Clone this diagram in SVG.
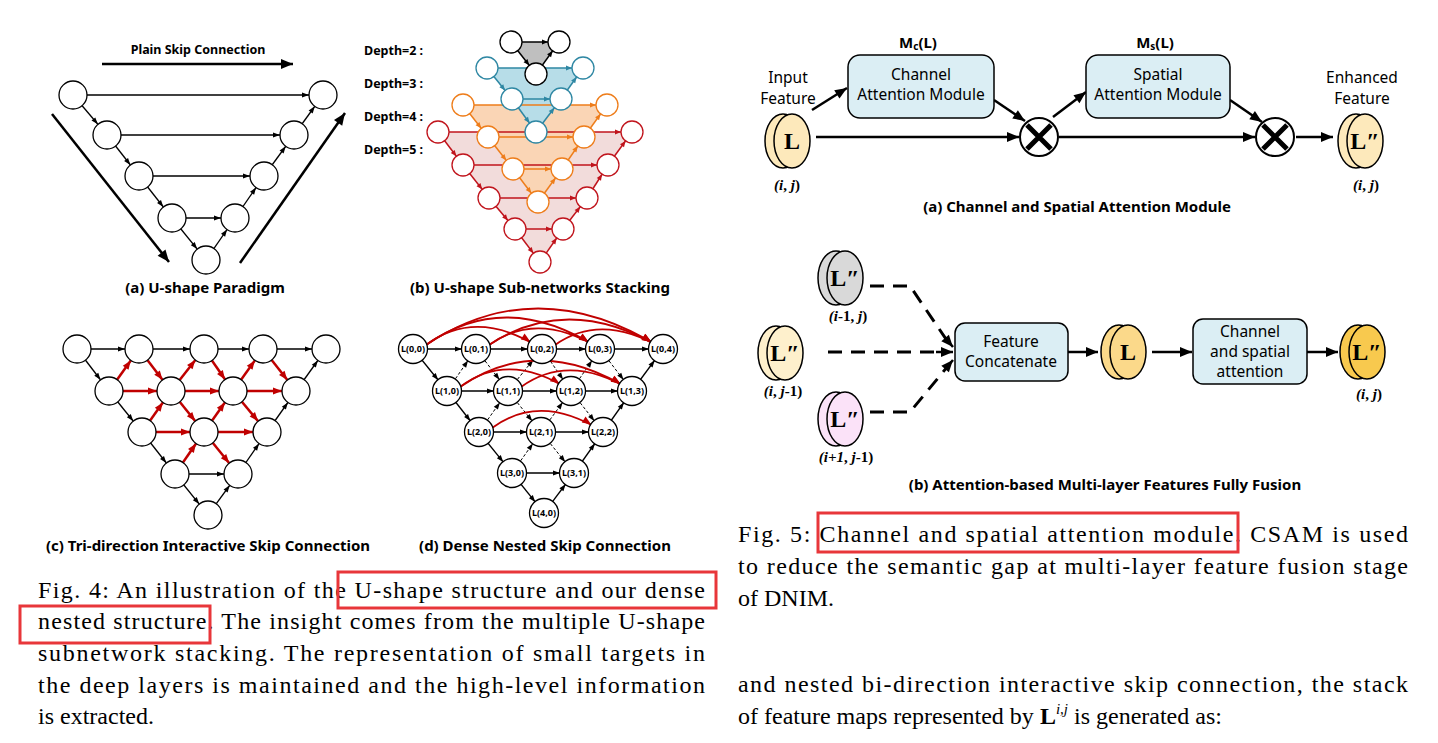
<svg xmlns="http://www.w3.org/2000/svg" width="1438" height="743" viewBox="0 0 1438 743">
<style>
.c{fill:#fff;stroke:#000;stroke-width:1.3}
.e{stroke:#000;stroke-width:1.3;fill:none;marker-end:url(#mk)}
.er{stroke:#c00000;stroke-width:2.5;fill:none;marker-end:url(#mr)}
.ed{stroke:#000;stroke-width:1;stroke-dasharray:3,2;fill:none;marker-end:url(#mk)}
.arc{stroke:#c00000;stroke-width:1.8;fill:none;marker-end:url(#mr)}
.cap{font-family:"Noto Sans","Open Sans",sans-serif;font-weight:bold;font-size:15px;text-anchor:middle}
.lab{font-family:"Noto Sans",sans-serif;font-weight:bold;font-size:9px;text-anchor:middle}
.bt{font-family:"Noto Sans","Open Sans",sans-serif;font-size:15.5px;text-anchor:middle}
.box{fill:#dbeef4;stroke:#000;stroke-width:1.5}
.ser{font-family:"Liberation Serif","Times New Roman",serif;font-size:24px}
.dl{font-family:"Liberation Serif","Times New Roman",serif;font-weight:bold;font-size:24px;text-anchor:middle}
.ij{font-family:"Liberation Serif","Times New Roman",serif;font-weight:bold;font-size:15px;text-anchor:middle}
.big{stroke:#000;stroke-width:2.5;fill:none;marker-end:url(#mbig)}
.dash{stroke:#000;stroke-width:3;stroke-dasharray:14,9;fill:none}
.hl{fill:none;stroke:#e8363a;stroke-width:3}
</style>
<defs>
<marker id="mk" markerUnits="userSpaceOnUse" markerWidth="7" markerHeight="5" refX="21" refY="2.5" orient="auto" style="overflow:visible"><path d="M0,0L7,2.5L0,5z"/></marker>
<marker id="mr" markerUnits="userSpaceOnUse" markerWidth="9" markerHeight="7" refX="23" refY="3.5" orient="auto" style="overflow:visible"><path d="M0,0L9,3.5L0,7z" fill="#c00000"/></marker>
<marker id="mbig" markerUnits="userSpaceOnUse" markerWidth="12" markerHeight="10" refX="12" refY="5" orient="auto" style="overflow:visible"><path d="M0,0L12,5L0,10z"/></marker>
<marker id="b0" markerUnits="userSpaceOnUse" markerWidth="6" markerHeight="5" refX="17" refY="2.5" orient="auto" style="overflow:visible"><path d="M0,0L6,2.5L0,5z"/></marker>
<marker id="b1" markerUnits="userSpaceOnUse" markerWidth="6" markerHeight="5" refX="17" refY="2.5" orient="auto" style="overflow:visible"><path d="M0,0L6,2.5L0,5z" fill="#2e87a3"/></marker>
<marker id="b2" markerUnits="userSpaceOnUse" markerWidth="6" markerHeight="5" refX="17" refY="2.5" orient="auto" style="overflow:visible"><path d="M0,0L6,2.5L0,5z" fill="#ee7d1a"/></marker>
<marker id="b3" markerUnits="userSpaceOnUse" markerWidth="6" markerHeight="5" refX="17" refY="2.5" orient="auto" style="overflow:visible"><path d="M0,0L6,2.5L0,5z" fill="#c0141c"/></marker>
</defs>
<rect width="1438" height="743" fill="#fff"/>

<!-- (a) U-shape paradigm -->
<g id="panel-a-connectors">
<text x="198" y="54" class="cap" style="font-size:12.5px">Plain Skip Connection</text>
<line x1="102" y1="64" x2="293" y2="64" class="big"/>
<line x1="52" y1="114" x2="169" y2="262" class="big"/>
<line x1="240" y1="263" x2="345" y2="113" class="big"/>
<line x1="73" y1="95" x2="107" y2="135" class="e"/>
<line x1="107" y1="135" x2="139" y2="176" class="e"/>
<line x1="139" y1="176" x2="172" y2="218" class="e"/>
<line x1="172" y1="218" x2="206" y2="260" class="e"/>
<line x1="206" y1="260" x2="235" y2="218" class="e"/>
<line x1="235" y1="218" x2="264" y2="176" class="e"/>
<line x1="264" y1="176" x2="294" y2="135" class="e"/>
<line x1="294" y1="135" x2="323" y2="95" class="e"/>
<line x1="73" y1="95" x2="323" y2="95" class="e"/>
<line x1="107" y1="135" x2="294" y2="135" class="e"/>
<line x1="139" y1="176" x2="264" y2="176" class="e"/>
<line x1="172" y1="218" x2="235" y2="218" class="e"/>
</g>
<g id="panel-a-nodes">
<circle cx="73" cy="95" r="14" class="c"/><circle cx="107" cy="135" r="14" class="c"/><circle cx="139" cy="176" r="14" class="c"/><circle cx="172" cy="218" r="14" class="c"/><circle cx="206" cy="260" r="14" class="c"/>
<circle cx="323" cy="95" r="14" class="c"/><circle cx="294" cy="135" r="14" class="c"/><circle cx="264" cy="176" r="14" class="c"/><circle cx="235" cy="218" r="14" class="c"/>
</g>
<text x="205" y="293" class="cap">(a) U-shape Paradigm</text>

<!-- (b) stacking -->
<g id="panel-b-fills">
<polygon points="438,132 632,132 608,165 587,198 563,229 540,262 515,229 489,198 463,165" fill="#f2dcdb"/>
<polygon points="463,105 607,105 584,137 562,169 538,202 513,169 488,137" fill="#fad5b5"/>
<polygon points="487,68 583,68 561,99 536,132 512,99" fill="#b7dde8"/>
<polygon points="511,42 559,42 536,74" fill="#bfbfbf"/>
</g>
<g id="panel-b-connectors" stroke-width="1.5">
<g stroke="#c0141c" marker-end="url(#b3)">
<line x1="438" y1="132" x2="632" y2="132"/><line x1="463" y1="165" x2="608" y2="165"/><line x1="489" y1="198" x2="587" y2="198"/><line x1="515" y1="229" x2="563" y2="229"/>
<line x1="438" y1="132" x2="463" y2="165"/><line x1="463" y1="165" x2="489" y2="198"/><line x1="489" y1="198" x2="515" y2="229"/><line x1="515" y1="229" x2="540" y2="262"/>
<line x1="540" y1="262" x2="563" y2="229"/><line x1="563" y1="229" x2="587" y2="198"/><line x1="587" y1="198" x2="608" y2="165"/><line x1="608" y1="165" x2="632" y2="132"/>
</g>
<g stroke="#ee7d1a" marker-end="url(#b2)">
<line x1="463" y1="105" x2="607" y2="105"/><line x1="488" y1="137" x2="584" y2="137"/><line x1="513" y1="169" x2="562" y2="169"/>
<line x1="463" y1="105" x2="488" y2="137"/><line x1="488" y1="137" x2="513" y2="169"/><line x1="513" y1="169" x2="538" y2="202"/>
<line x1="538" y1="202" x2="562" y2="169"/><line x1="562" y1="169" x2="584" y2="137"/><line x1="584" y1="137" x2="607" y2="105"/>
</g>
<g stroke="#2e87a3" marker-end="url(#b1)">
<line x1="487" y1="68" x2="583" y2="68"/><line x1="512" y1="99" x2="561" y2="99"/>
<line x1="487" y1="68" x2="512" y2="99"/><line x1="512" y1="99" x2="536" y2="132"/>
<line x1="536" y1="132" x2="561" y2="99"/><line x1="561" y1="99" x2="583" y2="68"/>
</g>
<g stroke="#000" marker-end="url(#b0)">
<line x1="511" y1="42" x2="559" y2="42"/><line x1="511" y1="42" x2="536" y2="74"/><line x1="536" y1="74" x2="559" y2="42"/>
</g>
</g>
<g id="panel-b-nodes" fill="#fff" stroke-width="1.3">
<g stroke="#c0141c"><circle cx="438" cy="132" r="11"/><circle cx="632" cy="132" r="11"/><circle cx="463" cy="165" r="11"/><circle cx="608" cy="165" r="11"/><circle cx="489" cy="198" r="11"/><circle cx="587" cy="198" r="11"/><circle cx="515" cy="229" r="11"/><circle cx="563" cy="229" r="11"/><circle cx="540" cy="262" r="11"/></g>
<g stroke="#ee7d1a"><circle cx="463" cy="105" r="11"/><circle cx="607" cy="105" r="11"/><circle cx="488" cy="137" r="11"/><circle cx="584" cy="137" r="11"/><circle cx="513" cy="169" r="11"/><circle cx="562" cy="169" r="11"/><circle cx="538" cy="202" r="11"/></g>
<g stroke="#2e87a3"><circle cx="487" cy="68" r="11"/><circle cx="583" cy="68" r="11"/><circle cx="512" cy="99" r="11"/><circle cx="561" cy="99" r="11"/><circle cx="536" cy="132" r="11"/></g>
<g stroke="#000"><circle cx="511" cy="42" r="11"/><circle cx="559" cy="42" r="11"/><circle cx="536" cy="74" r="11"/></g>
</g>
<g class="cap" style="font-size:12.5px;text-anchor:start">
<text x="364" y="55">Depth=2 :</text><text x="364" y="88">Depth=3 :</text><text x="364" y="121">Depth=4 :</text><text x="364" y="154">Depth=5 :</text>
</g>
<text x="540" y="293" class="cap">(b) U-shape Sub-networks Stacking</text>

<!-- (c) -->
<g id="panel-c-connectors">
<line x1="77" y1="349" x2="139" y2="349" class="e"/><line x1="139" y1="349" x2="204" y2="349" class="e"/><line x1="204" y1="349" x2="263" y2="349" class="e"/><line x1="263" y1="349" x2="326" y2="349" class="e"/>
<line x1="175" y1="474" x2="238" y2="474" class="e"/>
<line x1="77" y1="349" x2="109" y2="391" class="e"/><line x1="109" y1="391" x2="142" y2="432" class="e"/><line x1="142" y1="432" x2="175" y2="474" class="e"/><line x1="175" y1="474" x2="208" y2="515" class="e"/>
<line x1="208" y1="515" x2="238" y2="474" class="e"/><line x1="238" y1="474" x2="267" y2="432" class="e"/><line x1="267" y1="432" x2="296" y2="391" class="e"/><line x1="296" y1="391" x2="326" y2="349" class="e"/>
<line x1="109" y1="391" x2="171" y2="391" class="er"/><line x1="171" y1="391" x2="233" y2="391" class="er"/><line x1="233" y1="391" x2="296" y2="391" class="er"/>
<line x1="142" y1="432" x2="204" y2="432" class="er"/><line x1="204" y1="432" x2="267" y2="432" class="er"/>
<line x1="109" y1="391" x2="139" y2="349" class="er"/><line x1="171" y1="391" x2="204" y2="349" class="er"/><line x1="233" y1="391" x2="263" y2="349" class="er"/>
<line x1="142" y1="432" x2="171" y2="391" class="er"/><line x1="204" y1="432" x2="233" y2="391" class="er"/><line x1="175" y1="474" x2="204" y2="432" class="er"/>
<line x1="139" y1="349" x2="171" y2="391" class="er"/><line x1="204" y1="349" x2="233" y2="391" class="er"/><line x1="263" y1="349" x2="296" y2="391" class="er"/>
<line x1="171" y1="391" x2="204" y2="432" class="er"/><line x1="233" y1="391" x2="267" y2="432" class="er"/><line x1="204" y1="432" x2="238" y2="474" class="er"/>
</g>
<g id="panel-c-nodes">
<circle cx="77" cy="349" r="14" class="c"/><circle cx="139" cy="349" r="14" class="c"/><circle cx="204" cy="349" r="14" class="c"/><circle cx="263" cy="349" r="14" class="c"/><circle cx="326" cy="349" r="14" class="c"/>
<circle cx="109" cy="391" r="14" class="c"/><circle cx="171" cy="391" r="14" class="c"/><circle cx="233" cy="391" r="14" class="c"/><circle cx="296" cy="391" r="14" class="c"/>
<circle cx="142" cy="432" r="14" class="c"/><circle cx="204" cy="432" r="14" class="c"/><circle cx="267" cy="432" r="14" class="c"/>
<circle cx="175" cy="474" r="14" class="c"/><circle cx="238" cy="474" r="14" class="c"/><circle cx="208" cy="515" r="14" class="c"/>
</g>
<text x="208" y="551" class="cap">(c) Tri-direction Interactive Skip Connection</text>

<!-- (d) -->
<g id="panel-d-connectors">
<line x1="413" y1="349" x2="476" y2="349" class="e"/><line x1="476" y1="349" x2="542" y2="349" class="e"/><line x1="542" y1="349" x2="600" y2="349" class="e"/><line x1="600" y1="349" x2="663" y2="349" class="e"/>
<line x1="447" y1="391" x2="508" y2="391" class="e"/><line x1="508" y1="391" x2="571" y2="391" class="e"/><line x1="571" y1="391" x2="632" y2="391" class="e"/>
<line x1="479" y1="432" x2="541" y2="432" class="e"/><line x1="541" y1="432" x2="603" y2="432" class="e"/>
<line x1="512" y1="473" x2="574" y2="473" class="e"/>
<line x1="413" y1="349" x2="447" y2="391" class="e"/><line x1="447" y1="391" x2="479" y2="432" class="e"/><line x1="479" y1="432" x2="512" y2="473" class="e"/><line x1="512" y1="473" x2="544" y2="513" class="e"/>
<line x1="544" y1="513" x2="574" y2="473" class="e"/><line x1="574" y1="473" x2="603" y2="432" class="e"/><line x1="603" y1="432" x2="632" y2="391" class="e"/><line x1="632" y1="391" x2="663" y2="349" class="e"/>
<line x1="447" y1="391" x2="476" y2="349" class="ed"/><line x1="508" y1="391" x2="542" y2="349" class="ed"/><line x1="571" y1="391" x2="600" y2="349" class="ed"/>
<line x1="479" y1="432" x2="508" y2="391" class="ed"/><line x1="541" y1="432" x2="571" y2="391" class="ed"/><line x1="512" y1="473" x2="541" y2="432" class="ed"/>
<line x1="476" y1="349" x2="508" y2="391" class="ed"/><line x1="542" y1="349" x2="571" y2="391" class="ed"/><line x1="600" y1="349" x2="632" y2="391" class="ed"/>
<line x1="508" y1="391" x2="541" y2="432" class="ed"/><line x1="571" y1="391" x2="603" y2="432" class="ed"/><line x1="541" y1="432" x2="574" y2="473" class="ed"/>
<path d="M426,345 Q477,307 542,349" class="arc"/>
<path d="M426,345 Q506,288 600,349" class="arc"/>
<path d="M426,345 Q538,270 663,349" class="arc"/>
<path d="M489,345 Q538,310 600,349" class="arc"/>
<path d="M489,345 Q569,292 663,349" class="arc"/>
<path d="M555,345 Q602,312 663,349" class="arc"/>
<path d="M460,387 Q509,350 571,391" class="arc"/>
<path d="M460,387 Q540,332 632,391" class="arc"/>
<path d="M521,387 Q570,352 632,391" class="arc"/>
<path d="M492,428 Q541,392 603,432" class="arc"/>
</g>
<g id="panel-d-nodes">
<circle cx="413" cy="349" r="14.5" class="c"/><text x="413" y="352" class="lab">L(0,0)</text>
<circle cx="476" cy="349" r="14.5" class="c"/><text x="476" y="352" class="lab">L(0,1)</text>
<circle cx="542" cy="349" r="14.5" class="c"/><text x="542" y="352" class="lab">L(0,2)</text>
<circle cx="600" cy="349" r="14.5" class="c"/><text x="600" y="352" class="lab">L(0,3)</text>
<circle cx="663" cy="349" r="14.5" class="c"/><text x="663" y="352" class="lab">L(0,4)</text>
<circle cx="447" cy="391" r="14.5" class="c"/><text x="447" y="394" class="lab">L(1,0)</text>
<circle cx="508" cy="391" r="14.5" class="c"/><text x="508" y="394" class="lab">L(1,1)</text>
<circle cx="571" cy="391" r="14.5" class="c"/><text x="571" y="394" class="lab">L(1,2)</text>
<circle cx="632" cy="391" r="14.5" class="c"/><text x="632" y="394" class="lab">L(1,3)</text>
<circle cx="479" cy="432" r="14.5" class="c"/><text x="479" y="435" class="lab">L(2,0)</text>
<circle cx="541" cy="432" r="14.5" class="c"/><text x="541" y="435" class="lab">L(2,1)</text>
<circle cx="603" cy="432" r="14.5" class="c"/><text x="603" y="435" class="lab">L(2,2)</text>
<circle cx="512" cy="473" r="14.5" class="c"/><text x="512" y="476" class="lab">L(3,0)</text>
<circle cx="574" cy="473" r="14.5" class="c"/><text x="574" y="476" class="lab">L(3,1)</text>
<circle cx="544" cy="513" r="14.5" class="c"/><text x="544" y="516" class="lab">L(4,0)</text>
</g>
<text x="545" y="551" class="cap">(d) Dense Nested Skip Connection</text>

<!-- Right (a) -->
<g id="ra-connectors">
<line x1="812" y1="110" x2="847" y2="88" class="big"/>
<line x1="994" y1="100" x2="1025" y2="121" class="big"/>
<line x1="1053" y1="117" x2="1086" y2="92" class="big"/>
<line x1="1230" y1="100" x2="1262" y2="122" class="big"/>
<line x1="816" y1="137" x2="1019" y2="137" class="big"/>
<line x1="1059" y1="137" x2="1255" y2="137" class="big"/>
<line x1="1296" y1="137" x2="1333" y2="137" class="big"/>
</g>
<g id="ra-input">
<ellipse cx="783" cy="141" rx="18" ry="27" fill="#fde9bb" stroke="#000" stroke-width="1.5"/>
<ellipse cx="792" cy="141" rx="18" ry="27" fill="#fde9bb" stroke="#000" stroke-width="1.5"/>
<text x="792" y="149" class="dl">L</text>
<text x="788" y="83" class="bt">Input</text><text x="788" y="104" class="bt">Feature</text>
<text x="787" y="190" class="ij"><tspan font-style="italic">(i</tspan>,  <tspan font-style="italic">j</tspan>)</text>
</g>
<g id="ra-cam">
<rect x="848" y="55" width="146" height="63" rx="12" class="box"/>
<text x="921" y="80" class="bt">Channel</text><text x="921" y="100" class="bt">Attention Module</text>
<text x="918" y="48" class="cap" style="font-size:15px">M<tspan font-size="10" dy="2">c</tspan><tspan dy="-2">(L)</tspan></text>
</g>
<g id="ra-sam">
<rect x="1086" y="55" width="144" height="63" rx="12" class="box"/>
<text x="1158" y="80" class="bt">Spatial</text><text x="1158" y="100" class="bt">Attention Module</text>
<text x="1155" y="48" class="cap" style="font-size:15px">M<tspan font-size="10" dy="2">s</tspan><tspan dy="-2">(L)</tspan></text>
</g>
<g id="ra-mul1"><circle cx="1039" cy="137" r="19" fill="#fff" stroke="#000" stroke-width="2"/><path d="M1027,125L1051,149M1051,125L1027,149" stroke="#000" stroke-width="5"/></g>
<g id="ra-mul2"><circle cx="1275" cy="137" r="19" fill="#fff" stroke="#000" stroke-width="2"/><path d="M1263,125L1287,149M1287,125L1263,149" stroke="#000" stroke-width="5"/></g>
<g id="ra-output">
<ellipse cx="1356" cy="141" rx="18" ry="27" fill="#fde9bb" stroke="#000" stroke-width="1.5"/>
<ellipse cx="1365" cy="141" rx="18" ry="27" fill="#fde9bb" stroke="#000" stroke-width="1.5"/>
<text x="1365" y="149" class="dl">L″</text>
<text x="1362" y="83" class="bt">Enhanced</text><text x="1362" y="104" class="bt">Feature</text>
<text x="1366" y="190" class="ij"><tspan font-style="italic">(i</tspan>,  <tspan font-style="italic">j</tspan>)</text>
</g>
<text x="1077" y="212" class="cap">(a) Channel and Spatial Attention Module</text>

<!-- Right (b) -->
<g id="rb-connectors">
<path d="M870,286 L910,286 L948,342" class="dash"/>
<line x1="946" y1="339" x2="953" y2="347" class="big" stroke-width="2"/>
<line x1="828" y1="352" x2="940" y2="352" class="dash"/>
<line x1="936" y1="352" x2="953" y2="352" class="big"/>
<path d="M870,412 L910,412 L948,366" class="dash"/>
<line x1="946" y1="368" x2="953" y2="360" class="big" stroke-width="2"/>
<line x1="1068" y1="352" x2="1098" y2="352" class="big"/>
<line x1="1152" y1="352" x2="1192" y2="352" class="big"/>
<line x1="1307" y1="352" x2="1338" y2="352" class="big"/>
</g>
<g id="rb-up">
<ellipse cx="836" cy="278" rx="18" ry="27" fill="#d9d9d9" stroke="#000" stroke-width="1.5"/>
<ellipse cx="845" cy="278" rx="18" ry="27" fill="#d9d9d9" stroke="#000" stroke-width="1.5"/>
<text x="845" y="286" class="dl">L″</text>
<text x="848" y="321" class="ij"><tspan font-style="italic">(i</tspan>-1,  <tspan font-style="italic">j</tspan>)</text>
</g>
<g id="rb-left">
<ellipse cx="776" cy="353" rx="18" ry="27" fill="#fef0cc" stroke="#000" stroke-width="1.5"/>
<ellipse cx="785" cy="353" rx="18" ry="27" fill="#fef0cc" stroke="#000" stroke-width="1.5"/>
<text x="785" y="361" class="dl">L″</text>
<text x="783" y="396" class="ij"><tspan font-style="italic">(i</tspan>,  <tspan font-style="italic">j</tspan>-1)</text>
</g>
<g id="rb-down">
<ellipse cx="836" cy="419" rx="18" ry="27" fill="#fbe2f8" stroke="#000" stroke-width="1.5"/>
<ellipse cx="845" cy="419" rx="18" ry="27" fill="#fbe2f8" stroke="#000" stroke-width="1.5"/>
<text x="845" y="427" class="dl">L″</text>
<text x="846" y="462" class="ij"><tspan font-style="italic">(i+1</tspan>,  <tspan font-style="italic">j</tspan>-1)</text>
</g>
<g id="rb-concat">
<rect x="955" y="323" width="113" height="58" rx="10" class="box"/>
<text x="1011" y="347" class="bt">Feature</text><text x="1011" y="367" class="bt">Concatenate</text>
</g>
<g id="rb-L">
<ellipse cx="1119" cy="352" rx="18" ry="27" fill="#fbd98a" stroke="#000" stroke-width="1.5"/>
<ellipse cx="1128" cy="352" rx="18" ry="27" fill="#fbd98a" stroke="#000" stroke-width="1.5"/>
<text x="1128" y="360" class="dl">L</text>
</g>
<g id="rb-csa">
<rect x="1193" y="319" width="114" height="65" rx="10" class="box"/>
<text x="1250" y="337" class="bt">Channel</text><text x="1250" y="357" class="bt">and spatial</text><text x="1250" y="377" class="bt">attention</text>
</g>
<g id="rb-out">
<ellipse cx="1358" cy="352" rx="18" ry="27" fill="#f8c94e" stroke="#000" stroke-width="1.5"/>
<ellipse cx="1367" cy="352" rx="18" ry="27" fill="#f8c94e" stroke="#000" stroke-width="1.5"/>
<text x="1367" y="360" class="dl">L″</text>
<text x="1369" y="399" class="ij"><tspan font-style="italic">(i</tspan>,  <tspan font-style="italic">j</tspan>)</text>
</g>
<text x="1105" y="490" class="cap">(b) Attention-based Multi-layer Features Fully Fusion</text>

<!-- body text -->
<g class="ser">
<text x="38" y="598" textLength="667" lengthAdjust="spacing">Fig. 4: An illustration of the U-shape structure and our dense</text>
<text x="38" y="629" textLength="667" lengthAdjust="spacing">nested structure. The insight comes from the multiple U-shape</text>
<text x="38" y="661" textLength="667" lengthAdjust="spacing">subnetwork stacking. The representation of small targets in</text>
<text x="38" y="693" textLength="667" lengthAdjust="spacing">the deep layers is maintained and the high-level information</text>
<text x="38" y="724">is extracted.</text>
<text x="738" y="542" textLength="670" lengthAdjust="spacing">Fig. 5: Channel and spatial attention module. CSAM is used</text>
<text x="738" y="574" textLength="670" lengthAdjust="spacing">to reduce the semantic gap at multi-layer feature fusion stage</text>
<text x="738" y="606">of DNIM.</text>
<text x="738" y="692" textLength="670" lengthAdjust="spacing">and nested bi-direction interactive skip connection, the stack</text>
<text x="738" y="724">of feature maps represented by <tspan font-weight="bold">L</tspan><tspan font-size="15" dy="-10" font-style="italic">i,j</tspan><tspan dy="10"> is generated as:</tspan></text>
</g>
<rect x="338" y="572" width="378" height="36" class="hl"/>
<rect x="20" y="606" width="190" height="37" class="hl"/>
<rect x="818" y="513" width="420" height="39" class="hl"/>
</svg>
